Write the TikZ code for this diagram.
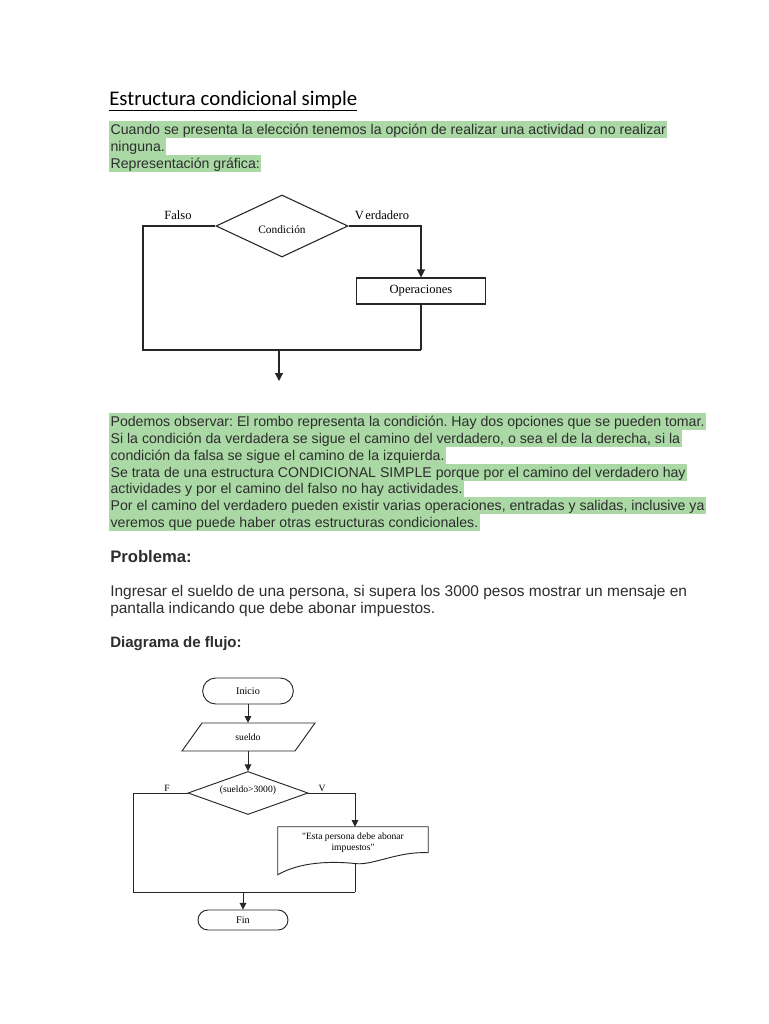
\documentclass[tikz,border=0pt]{standalone}
\usepackage{fontspec}
\setmainfont{Liberation Sans}
\newfontfamily\titlefont{Carlito}
\newfontfamily\serifdiag{Liberation Serif}
\usetikzlibrary{shapes.geometric,arrows.meta,calc}
\definecolor{hlgreen}{RGB}{170,217,165}
\definecolor{bodytext}{RGB}{45,45,45}
\frenchspacing
\tikzset{
  hl/.style={fill=hlgreen, inner xsep=1pt, inner ysep=0pt, text height=9.8pt, text depth=3pt, anchor=base west, font=\fontsize{10.6pt}{12.5pt}\selectfont, text=bodytext},
  plain/.style={inner sep=0pt, anchor=base west, font=\fontsize{11.6pt}{13.5pt}\selectfont, text=bodytext},
  heading/.style={inner sep=0pt, anchor=base west, font=\fontsize{11.3pt}{13pt}\selectfont\bfseries, text=bodytext},
  line1/.style={draw=black!85, line width=0.8pt},
  arr1/.style={line1, -{Triangle[width=6pt,length=6pt]}},
  lbl1/.style={inner sep=0pt, font=\serifdiag\fontsize{9.4pt}{11pt}\selectfont},
  line2/.style={draw=black!85, line width=0.7pt},
  arr2/.style={line2, -{Triangle[width=5pt,length=5pt]}},
  lbl2/.style={inner sep=0pt, font=\serifdiag\fontsize{7.2pt}{8.5pt}\selectfont},
}
\begin{document}
\begin{tikzpicture}[x=0.75pt,y=-0.75pt]
\useasboundingbox[fill=white] (0,0) rectangle (768,1024);

% Title
\node[inner sep=0pt, anchor=base west, font=\titlefont\fontsize{15.6pt}{18pt}\selectfont] (title) at (109,105) {\underline{Estructura condicional simple}};

% First paragraph
\node[hl] (pa1) at (109,134) {Cuando se presenta la elección tenemos la opción de realizar una actividad o no realizar};
\node[hl] (pa2) at (109,151) {ninguna.};
\node[hl] (pa3) at (109,168) {Representación gráfica:};

% Diagram 1
\node[diamond, line1, inner sep=0pt, minimum width=99pt, minimum height=46.5pt] (cond) at (282,226) {};
\node[inner sep=0pt, font=\serifdiag\fontsize{8.5pt}{10pt}\selectfont] (condtxt) at (282,230) {Condición};
\node[rectangle, line1, inner sep=0pt, minimum width=97pt, minimum height=19.5pt, font=\serifdiag\fontsize{9.4pt}{11pt}\selectfont] (ops) at (421,291) {Operaciones};
\node[lbl1] (falso) at (178,215) {Falso};
\node[lbl1] (verd) at (382,215) {V\hspace{1pt}erdadero};
\coordinate (bl1) at (143,350);
\coordinate (br1) at (421,350);
\coordinate (mid1) at (279,350);
\coordinate (end1) at (279,381);
\draw[line1] (cond.west) -| (bl1) -- (br1);
\draw[arr1] (cond.east) -| (ops.north);
\draw[line1] (ops.south) -- (br1);
\draw[arr1] (mid1) -- (end1);

% Second paragraph
\node[hl] (pb1) at (109,426) {Podemos observar: El rombo representa la condición. Hay dos opciones que se pueden tomar.};
\node[hl] (pb2) at (109,443) {Si la condición da verdadera se sigue el camino del verdadero, o sea el de la derecha, si la};
\node[hl] (pb3) at (109,460) {condición da falsa se sigue el camino de la izquierda.};
\node[hl] (pb4) at (109,477) {Se trata de una estructura CONDICIONAL SIMPLE porque por el camino del verdadero hay};
\node[hl] (pb5) at (109,493) {actividades y por el camino del falso no hay actividades.};
\node[hl] (pb6) at (109,510) {Por el camino del verdadero pueden existir varias operaciones, entradas y salidas, inclusive ya};
\node[hl] (pb7) at (109,527) {veremos que puede haber otras estructuras condicionales.};

% Problema
\node[heading, font=\fontsize{12.5pt}{14pt}\selectfont\bfseries] (prob) at (110,562) {Problema:};
\node[plain] (pc1) at (110,596) {Ingresar el sueldo de una persona, si supera los 3000 pesos mostrar un mensaje en};
\node[plain] (pc2) at (110,613) {pantalla indicando que debe abonar impuestos.};
\node[heading] (diag) at (110,647) {Diagrama de flujo:};

% Diagram 2
\node[rectangle, rounded corners=9.75pt, line2, inner sep=0pt, minimum width=68pt, minimum height=19.5pt, font=\serifdiag\fontsize{7.6pt}{9pt}\selectfont] (inicio) at (248,691) {Inicio};
\node[inner sep=0pt, minimum height=21pt, font=\serifdiag\fontsize{7.2pt}{9pt}\selectfont] (sueldo) at (248,737) {sueldo};
\draw[line2] (202,723) -- (315,723) -- (295,751) -- (182,751) -- cycle;
\node[diamond, line2, inner sep=0pt, minimum width=90pt, minimum height=32.25pt] (cond2) at (248,793) {};
\node[lbl2] (condtxt2) at (248,790) {(sueldo>3000)};
\node[lbl2] (flbl) at (167,788) {F};
\node[lbl2] (vlbl) at (322,788) {V};
\node[inner sep=0pt, minimum width=112.5pt, minimum height=24pt, align=center, font=\serifdiag\fontsize{7.2pt}{8.4pt}\selectfont] (doc) at (353,843) {"Esta persona debe abonar\\impuestos"};
\coordinate (docb) at (355,863.5);
\draw[line2] (doc.north west) -- (doc.north east) -- ++(0,26) .. controls (398,851) and (372,866) .. (docb) .. controls (330,861) and (300,862) .. ($(doc.north west)+(0,48)$) -- cycle;
\coordinate (bl2) at (133,892);
\coordinate (br2) at (355,892);
\coordinate (mid2) at (243,892);
\node[rectangle, rounded corners=7.5pt, line2, inner sep=0pt, minimum width=67.5pt, minimum height=15pt, font=\serifdiag\fontsize{7.6pt}{9pt}\selectfont] (fin) at (243,920) {Fin};
\draw[arr2] (inicio.south) -- (sueldo.north);
\draw[arr2] (sueldo.south) -- (cond2.north);
\draw[line2] (cond2.west) -| (bl2) -- (br2);
\draw[arr2] (cond2.east) -| (doc.north -| docb);
\draw[line2] (docb) -- (br2);
\draw[arr2] (mid2) -- (fin.north);
\end{tikzpicture}
\end{document}
